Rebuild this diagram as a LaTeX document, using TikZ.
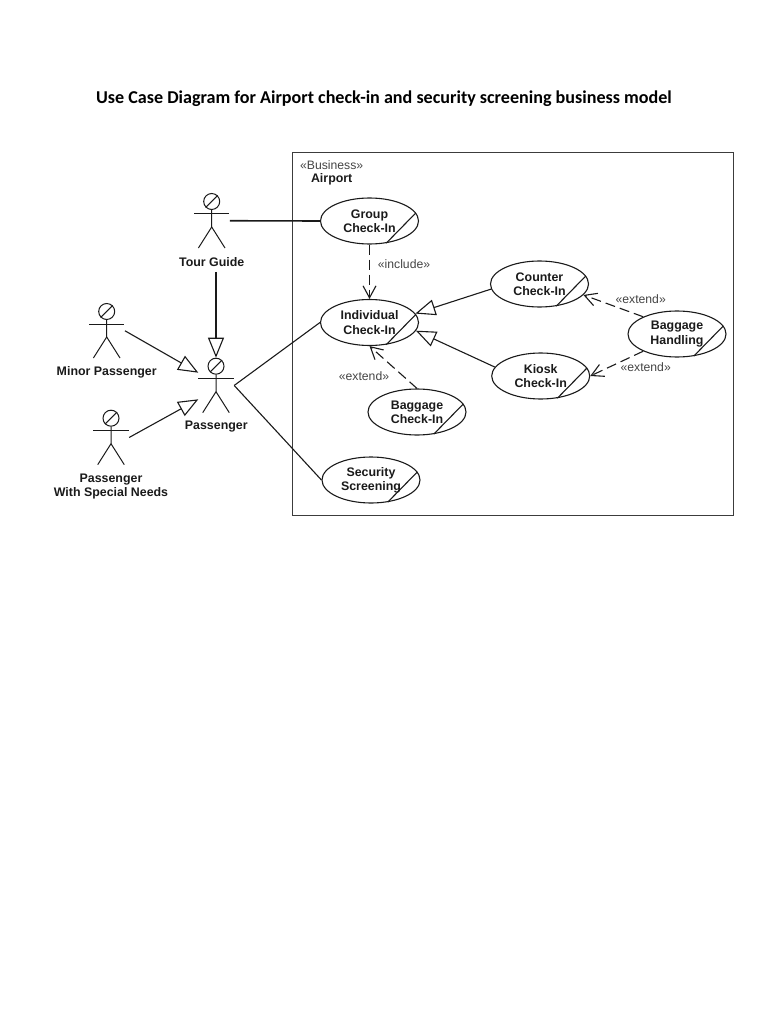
\documentclass[tikz,border=0pt]{standalone}
\usepackage{fontspec}
\setmainfont{Liberation Sans}
\newfontfamily\titlefont{Carlito}
\usetikzlibrary{shapes.geometric,arrows.meta}
\definecolor{ink}{HTML}{1A1A1A}
\definecolor{frameink}{HTML}{3C3C3C}
\definecolor{stereo}{HTML}{444444}
\tikzset{
  usecase/.style={ellipse,draw=ink,line width=1.1pt,inner sep=0pt,minimum width=98pt,minimum height=46pt,align=center,font=\fontsize{12.4}{14.2}\selectfont\bfseries,text=ink},
  actorlabel/.style={align=center,font=\fontsize{12.4}{14}\selectfont\bfseries,text=ink,inner sep=0pt},
  stereotype/.style={font=\fontsize{12.2}{14}\selectfont,text=stereo,inner sep=0pt},
  assoc/.style={draw=ink,line width=1.1pt},
  gener/.style={draw=ink,line width=1.1pt,-{Triangle[open,length=20pt,width=16pt]}},
  depend/.style={draw=ink,line width=1.1pt,dash pattern=on 10pt off 5pt,-{Straight Barb[length=12pt,width=13pt]}},
  actorbox/.style={inner sep=0pt,minimum width=35.4pt,minimum height=54.5pt}
}
\newcommand{\umlactor}[3]{%
  \begin{scope}[shift={(#2,#3)},draw=ink,line width=1pt]
    \node[actorbox] (#1) at (0,6.75) {};
    \node[circle,draw=ink,line width=1pt,inner sep=0pt,minimum size=16pt] (#1head) at (0,-12.5) {};
    \draw (#1head.-135) -- (#1head.45);
    \draw (#1head.south) -- (0,13) -- (-13.3,34);
    \draw (0,13) -- (13.3,34);
    \draw (-17.7,0) -- (17.7,0);
  \end{scope}}
\begin{document}
\begin{tikzpicture}[x=1pt,y=-1pt]
\useasboundingbox (0,0) rectangle (768,1024);
\node[font=\titlefont\fontsize{18.1}{20}\selectfont\bfseries,text=black,inner sep=0pt] (title) at (384,99) {Use Case Diagram for Airport check-in and security screening business model};
% system boundary
\node[draw=frameink,line width=1.3pt,inner sep=0pt,minimum width=440.6pt,minimum height=363pt] (system) at (513,334.2) {};
\node[stereotype] (bizlabel) at (331.7,165) {«Business»};
\node[actorlabel] (airport) at (331.7,179.3) {Airport};
% actors
\umlactor{tour}{211.7}{214}
\umlactor{minor}{106.7}{324}
\umlactor{pass}{216}{378.7}
\umlactor{special}{111}{430.7}
\node[actorlabel] (tourL) at (211.7,262) {Tour Guide};
\node[actorlabel] (minorL) at (106.7,372) {Minor Passenger};
\node[actorlabel] (passL) at (216.3,427) {Passenger};
\node[actorlabel] (specialL) at (111,486.3) {Passenger\\With Special Needs};
\coordinate (passNW) at (198.3,372.7);
\coordinate (passSW) at (198.3,399.3);
% use cases
\node[usecase] (group) at (369.5,221) {Group\\Check-In};
\node[usecase] (indiv) at (369.5,322.5) {Individual\\Check-In};
\node[usecase] (counter) at (539.5,284) {Counter\\Check-In};
\node[usecase] (kiosk) at (540.7,376) {Kiosk\\Check-In};
\node[usecase] (handling) at (677,334) {Baggage\\Handling};
\node[usecase] (bagcheck) at (417,412) {Baggage\\Check-In};
\node[usecase] (security) at (371,480) {Security\\Screening};
\foreach \n in {group,indiv,counter,kiosk,handling,bagcheck,security}
  \draw[ink,line width=1.1pt] (\n.10) -- (\n.-53);
% connectors
\draw[assoc,line width=1.6pt] (tour.east) -- (group.west);
\draw[assoc] (pass.east) -- (indiv.west);
\draw[assoc] (pass.east) -- (security.west);
\draw[gener] (tourL.south -| pass) ++(0,5) -- (pass.north);
\draw[gener] (minor.east) -- (passNW);
\draw[gener] (special.east) -- (passSW);
\draw[gener] (counter.-174) -- (indiv.11);
\draw[gener] (kiosk.169) -- (indiv.-10);
\draw[depend] (group.south) -- (indiv.north);
\draw[depend] (bagcheck.north) -- (indiv.south);
\draw[depend] (handling.153) -- (counter.-14);
\draw[depend] (handling.-153) -- (kiosk.east);
% stereotype labels
\node[stereotype] (lblinclude) at (404,264) {«include»};
\node[stereotype] (lblextA) at (364,376) {«extend»};
\node[stereotype] (lblextB) at (640.7,299) {«extend»};
\node[stereotype] (lblextC) at (645.7,366.7) {«extend»};
\end{tikzpicture}
\end{document}
